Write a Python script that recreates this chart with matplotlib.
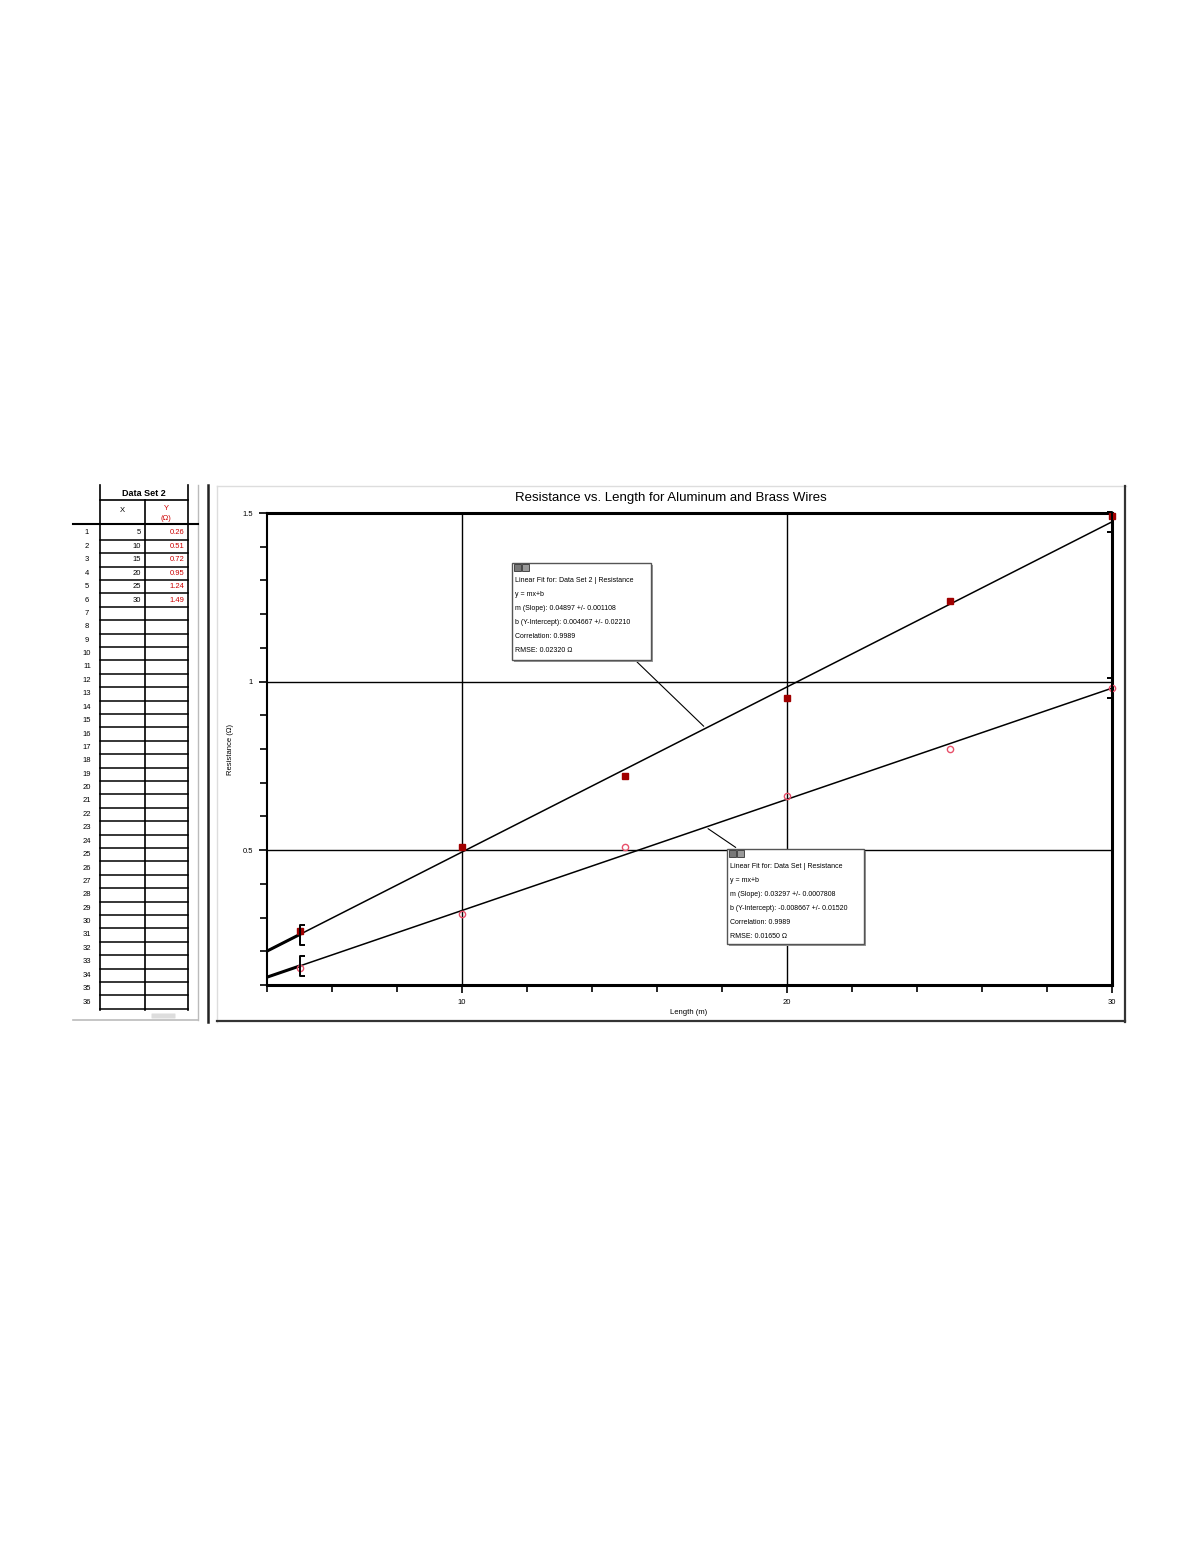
import numpy as np
import matplotlib.pyplot as plt
from matplotlib.path import Path
from matplotlib.patches import Rectangle, FancyBboxPatch

# data
length = np.array([5, 10, 15, 20, 25, 30])
res_brass = np.array([0.26, 0.51, 0.72, 0.95, 1.24, 1.49])     # Data Set 2
res_alum = np.array([0.15, 0.31, 0.51, 0.66, 0.80, 0.98])      # Data Set
table_x = ["5", "10", "15", "20", "25", "30"]
table_y = ["0.26", "0.51", "0.72", "0.95", "1.24", "1.49"]
n_rows = 36

fit2_text = ["Linear Fit for: Data Set 2 | Resistance",
             "y = mx+b",
             "m (Slope): 0.04897 +/- 0.001108",
             "b (Y-Intercept): 0.004667 +/- 0.02210",
             "Correlation: 0.9989",
             "RMSE: 0.02320 Ω"]
fit1_text = ["Linear Fit for: Data Set | Resistance",
             "y = mx+b",
             "m (Slope): 0.03297 +/- 0.0007808",
             "b (Y-Intercept): -0.008667 +/- 0.01520",
             "Correlation: 0.9989",
             "RMSE: 0.01650 Ω"]

plt.rcParams['font.family'] = ['Liberation Sans', 'DejaVu Sans']

W, H = 1200, 1553
fig = plt.figure(figsize=(W / 100, H / 100), dpi=100, facecolor='white')

# background layer in pixel coordinates
bg = fig.add_axes([0, 0, 1, 1])
bg.set_xlim(0, W)
bg.set_ylim(H, 0)
bg.axis('off')

# ---- table panel ----
bg.plot([100, 100], [485, 1010], color='black', lw=1.2)
bg.plot([188, 188], [485, 1010], color='black', lw=1.2)
bg.plot([145, 145], [500, 1010], color='black', lw=1.2)
bg.plot([198, 198], [485, 1020], color='#bbbbbb', lw=1)
bg.plot([208, 208], [485, 1022], color='#222222', lw=1.8)
bg.plot([100, 188], [500, 500], color='black', lw=1.2)
bg.plot([73, 198], [524, 524], color='black', lw=1.5)
bg.plot([73, 198], [1020, 1020], color='#bbbbbb', lw=1.2)
bg.add_patch(FancyBboxPatch((152, 1014), 23, 4, boxstyle='round,pad=0.5',
                            fc='#dddddd', ec='none'))
bg.text(144, 494, "Data Set 2", ha='center', va='center', fontsize=6.5,
        fontweight='bold')
bg.text(122, 511, "X", ha='center', va='center', fontsize=5.5)
bg.text(166, 508, "Y", ha='center', va='center', fontsize=5.5, color='#cc0000')
bg.text(166, 519, "(Ω)", ha='center', va='center', fontsize=5.5, color='#cc0000')
for i in range(n_rows):
    yc = 533 + 13.4 * i
    bg.text(87, yc, str(i + 1), ha='center', va='center', fontsize=5.5)
    bg.plot([100, 188], [yc + 6.7, yc + 6.7], color='black', lw=1.1)
    if i < len(table_x):
        bg.text(141, yc, table_x[i], ha='right', va='center', fontsize=5.5)
        bg.text(184, yc, table_y[i], ha='right', va='center', fontsize=5.5,
                color='#cc0000')

# ---- graph panel frame ----
bg.plot([217, 1126], [486, 486], color='#dddddd', lw=1)
bg.plot([217, 217], [486, 1022], color='#dddddd', lw=1)
bg.plot([1125, 1125], [486, 1022], color='#333333', lw=1.6)
bg.plot([217, 1125], [1021, 1021], color='#333333', lw=1.6)

# ---- graph ----
ax = fig.add_axes([267 / W, 1 - 985 / H, (1112 - 267) / W, (985 - 513) / H])
ax.set_xlim(4, 30)
ax.set_ylim(0.1, 1.5)
ax.set_xticks([10, 20, 30])
ax.set_xticks(np.arange(4, 31, 2), minor=True)
ax.set_yticks([0.5, 1, 1.5])
ax.set_yticklabels(["0.5", "1", "1.5"])
ax.set_yticks(np.arange(0.1, 1.51, 0.1), minor=True)
ax.tick_params(which='both', direction='out', labelsize=5.5, width=1.2)
ax.tick_params(which='major', length=6, pad=4)
ax.tick_params(which='minor', length=5)
ax.grid(which='major', color='black', lw=1)
for s in ax.spines.values():
    s.set_linewidth(2.2)
ax.spines['left'].set_linewidth(1.5)

fig.text(671 / W, 1 - 498 / H, "Resistance vs. Length for Aluminum and Brass Wires",
         ha='center', va='center', fontsize=9.5)
fig.text(231 / W, 1 - 750 / H, "Resistance (Ω)", ha='center', va='center',
         rotation=90, fontsize=5.5)
fig.text(689 / W, 1 - 1013 / H, "Length (m)", ha='center', va='center', fontsize=5.5)

# linear fits
xs = np.linspace(4, 30, 100)
lb = Path([(0.5, -1), (0, -1), (0, 1), (0.5, 1)],
          [Path.MOVETO, Path.LINETO, Path.LINETO, Path.LINETO])
rb = Path([(-0.5, -1), (0, -1), (0, 1), (-0.5, 1)],
          [Path.MOVETO, Path.LINETO, Path.LINETO, Path.LINETO])
for res in (res_brass, res_alum):
    m, b = np.polyfit(length, res, 1)
    ax.plot(xs, m * xs + b, color='black', lw=1.1, zorder=3)
    xl = np.array([4, length[0]])
    ax.plot(xl, m * xl + b, color='black', lw=2.2, zorder=3)
    ax.plot(length[0], m * length[0] + b, marker=lb, ms=15, mew=1.4, mfc='none',
            color='black', ls='none', zorder=5, clip_on=False)
    ax.plot(length[-1], m * length[-1] + b, marker=rb, ms=15, mew=1.4, mfc='none',
            color='black', ls='none', zorder=5, clip_on=False)

ax.plot(length, res_brass, 's', color='#a00000', ms=5, zorder=4, clip_on=False)
ax.plot(length, res_alum, 'o', mfc='none', mec='#e8506a', mew=1, ms=4.5,
        zorder=4, clip_on=False)

# overlay layer for the fit boxes
top = fig.add_axes([0, 0, 1, 1])
top.set_xlim(0, W)
top.set_ylim(H, 0)
top.axis('off')
top.patch.set_alpha(0)


def fit_box(x0, y0, w, h, lines, tip_x, res, tail):
    top.add_patch(Rectangle((x0 + 2, y0 + 2), w, h, fc='#999999', ec='none', zorder=5))
    top.add_patch(Rectangle((x0, y0), w, h, fc='white', ec='#555555', lw=1, zorder=6))
    for k, c in enumerate(['#777777', '#999999']):
        top.add_patch(Rectangle((x0 + 2 + 8 * k, y0 + 1), 7, 7, fc=c, ec='#333333',
                                lw=0.6, zorder=7))
    for k, t in enumerate(lines):
        top.text(x0 + 3, y0 + 17 + 14 * k, t, fontsize=5, va='center', zorder=7)
    m, b = np.polyfit(length, res, 1)
    ax.annotate("", xy=(tip_x, m * tip_x + b), xycoords='data',
                xytext=tail, textcoords=top.transData,
                arrowprops=dict(arrowstyle='-', color='black', lw=0.8))


fit_box(512, 563, 139, 97, fit2_text, 17.5, res_brass, (635, 660))
fit_box(727, 849, 137, 95, fit1_text, 17.5, res_alum, (738, 849))

fig.savefig('out.png', dpi=100)
